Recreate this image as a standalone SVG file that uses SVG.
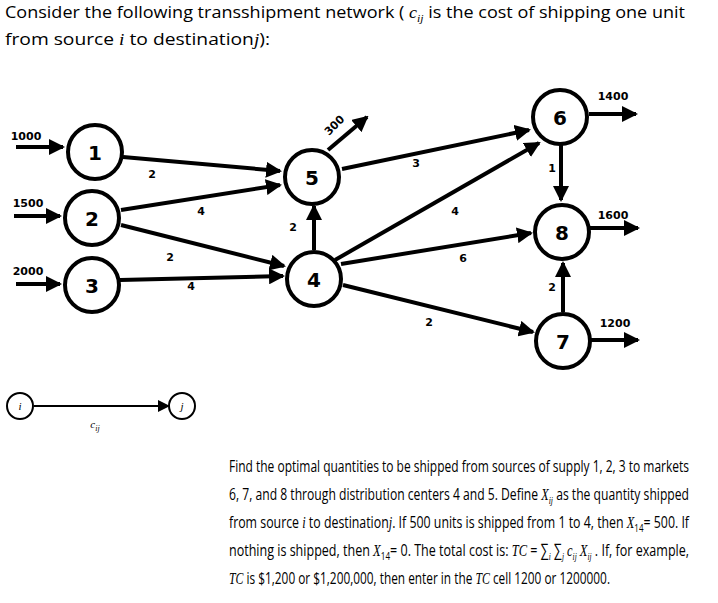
<svg xmlns="http://www.w3.org/2000/svg" width="718" height="603" viewBox="0 0 718 603">
<style>
.n{fill:#fff;stroke:#000;stroke-width:4}
.nl{font-family:"DejaVu Sans",sans-serif;font-weight:bold;font-size:20px;text-anchor:middle}
.e{stroke:#000;stroke-width:4;fill:none;marker-end:url(#a)}
.c{font-family:"DejaVu Sans",sans-serif;font-weight:bold;font-size:11px;text-anchor:middle}
.t{font-family:"Open Sans","Liberation Sans",sans-serif;font-size:17px}
.i{font-family:"Liberation Serif",serif;font-style:italic}
</style>
<defs><marker id="a" markerWidth="4" markerHeight="4" refX="3.5" refY="2" orient="auto" markerUnits="strokeWidth"><path d="M0,0L4,2L0,4z"/></marker>
<marker id="b" markerWidth="6" markerHeight="6" refX="5" refY="3" orient="auto" markerUnits="strokeWidth"><path d="M0,0L6,3L0,6z"/></marker></defs>
<g class="t">
<text x="5" y="18" textLength="680" lengthAdjust="spacingAndGlyphs">Consider the following transshipment network ( <tspan class="i">c<tspan font-size="11" dy="4">ij</tspan></tspan><tspan dy="-4"> is the cost of shipping one unit</tspan></text>
<text x="5" y="45" textLength="265" lengthAdjust="spacingAndGlyphs">from source <tspan class="i">i</tspan> to destination<tspan class="i">j</tspan>):</text>
</g>
<g id="edges">
<path class="e" d="M16,147H63"/><path class="e" d="M14,216H60"/><path class="e" d="M16,284H60"/>
<path class="e" d="M123,157L280,171"/><path class="e" d="M121,210L280,185"/><path class="e" d="M121,225L284,266"/>
<path class="e" d="M120,280L283,276"/><path class="e" d="M314,250V206"/><path class="e" d="M328,150L367,117"/>
<path class="e" d="M342,169L529,130"/><path class="e" d="M335,260L539,143"/><path class="e" d="M341,264L531,233"/>
<path class="e" d="M343,285L533,332"/><path class="e" d="M561,145V200"/><path class="e" d="M563,312V263"/>
<path class="e" d="M589,114H636"/><path class="e" d="M590,228H638"/><path class="e" d="M591,340H638"/>
<path d="M34,406H168" stroke="#000" stroke-width="2" marker-end="url(#b)"/>
</g>
<g class="c">
<text x="26" y="140">1000</text><text x="28" y="207">1500</text><text x="28" y="275">2000</text>
<text x="152" y="178">2</text><text x="201" y="215">4</text><text x="170" y="261">2</text><text x="191" y="290">4</text>
<text x="293" y="231">2</text><text x="337" y="128" transform="rotate(-45 337 128)">300</text>
<text x="416" y="167">3</text><text x="455" y="215">4</text><text x="463" y="262">6</text><text x="429" y="326">2</text>
<text x="552" y="172">1</text><text x="552" y="291">2</text>
<text x="613" y="100">1400</text><text x="613" y="219">1600</text><text x="615" y="327">1200</text>
</g>
<g id="n1"><circle class="n" cx="95" cy="152" r="27"/><text class="nl" x="95" y="160">1</text></g>
<g id="n2"><circle class="n" cx="92" cy="218" r="27"/><text class="nl" x="92" y="226">2</text></g>
<g id="n3"><circle class="n" cx="92" cy="285" r="27"/><text class="nl" x="92" y="293">3</text></g>
<g id="n5"><circle class="n" cx="312" cy="177" r="27"/><text class="nl" x="312" y="185">5</text></g>
<g id="n4"><circle class="n" cx="314" cy="279" r="27"/><text class="nl" x="314" y="287">4</text></g>
<g id="n6"><circle class="n" cx="560" cy="117" r="27"/><text class="nl" x="560" y="125">6</text></g>
<g id="n8"><circle class="n" cx="562" cy="232" r="27"/><text class="nl" x="562" y="240">8</text></g>
<g id="n7"><circle class="n" cx="563" cy="341" r="27"/><text class="nl" x="563" y="349">7</text></g>
<g id="li"><circle cx="20" cy="406" r="13" fill="#fff" stroke="#000" stroke-width="2"/><text x="20" y="410" class="i" font-size="11" text-anchor="middle">i</text></g>
<g id="lj"><circle cx="182" cy="406" r="13" fill="#fff" stroke="#000" stroke-width="2"/><text x="182" y="410" class="i" font-size="11" text-anchor="middle">j</text></g>
<text x="95" y="428" class="i" font-size="11" text-anchor="middle">c<tspan font-size="8" dy="3">ij</tspan></text>
<g class="t">
<text x="229" y="472" textLength="460" lengthAdjust="spacingAndGlyphs">Find the optimal quantities to be shipped from sources of supply 1, 2, 3 to markets</text>
<text x="229" y="500" textLength="460" lengthAdjust="spacingAndGlyphs">6, 7, and 8 through distribution centers 4 and 5. Define <tspan class="i">X<tspan font-size="11" dy="4">ij</tspan></tspan><tspan dy="-4"> as the quantity shipped</tspan></text>
<text x="229" y="528" textLength="460" lengthAdjust="spacingAndGlyphs">from source <tspan class="i">i</tspan> to destination<tspan class="i">j</tspan>. If 500 units is shipped from 1 to 4, then <tspan class="i">X</tspan><tspan font-size="11" dy="4">14</tspan><tspan dy="-4">= 500. If</tspan></text>
<text x="229" y="556" textLength="460" lengthAdjust="spacingAndGlyphs">nothing is shipped, then <tspan class="i">X</tspan><tspan font-size="11" dy="4">14</tspan><tspan dy="-4">= 0. The total cost is: </tspan><tspan class="i">TC</tspan> = ∑<tspan font-size="10" dy="4" class="i">i</tspan><tspan dy="-4"> ∑</tspan><tspan font-size="10" dy="4" class="i">j</tspan><tspan dy="-4" class="i"> c</tspan><tspan font-size="10" dy="4" class="i">ij</tspan><tspan dy="-4" class="i"> X</tspan><tspan font-size="10" dy="4" class="i">ij</tspan><tspan dy="-4"> . If, for example,</tspan></text>
<text x="229" y="584" textLength="381" lengthAdjust="spacingAndGlyphs"><tspan class="i">TC</tspan> is $1,200 or $1,200,000, then enter in the <tspan class="i">TC</tspan> cell 1200 or 1200000.</text>
</g>
</svg>
